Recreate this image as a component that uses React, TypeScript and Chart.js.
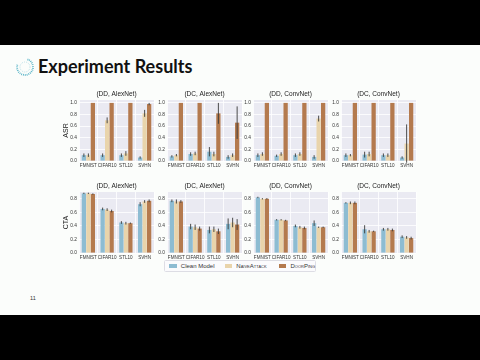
import React, { useEffect, useRef } from "react";
import { Chart, registerables } from "chart.js";
Chart.register(...registerables);

// ---------- data ----------
const categories = ["FMNIST", "CIFAR10", "STL10", "SVHN"];
const seriesNames = ["Clean Model", "NaiveAttack", "DoorPing"];
const seriesColors = ["#8dbcd2", "#e9d4ab", "#b47a4e"];

const asrTicks = [0, 0.2, 0.4, 0.6, 0.8, 1.0];
const ctaTicks = [0, 0.2, 0.4, 0.6, 0.8];

// ASR (top row)
const asrDDAlexClean = [0.1, 0.1, 0.1, 0.06];
const asrDDAlexNaive = [0.1, 0.7, 0.13, 0.82];
const asrDDAlexDoor = [1.0, 1.0, 1.0, 0.98];
const asrDDAlexErrClean = [0.03, 0.03, 0.03, 0.02];
const asrDDAlexErrNaive = [0.03, 0.05, 0.04, 0.06];
const asrDDAlexErrDoor = [0, 0, 0, 0.02];

const asrDCAlexClean = [0.08, 0.12, 0.16, 0.07];
const asrDCAlexNaive = [0.1, 0.13, 0.12, 0.1];
const asrDCAlexDoor = [1.0, 1.0, 0.82, 0.66];
const asrDCAlexErrClean = [0.02, 0.03, 0.08, 0.03];
const asrDCAlexErrNaive = [0.02, 0.03, 0.04, 0.03];
const asrDCAlexErrDoor = [0, 0, 0.18, 0.28];

const asrDDConvClean = [0.1, 0.09, 0.1, 0.07];
const asrDDConvNaive = [0.12, 0.12, 0.12, 0.73];
const asrDDConvDoor = [1.0, 1.0, 1.0, 1.0];
const asrDDConvErrClean = [0.03, 0.02, 0.03, 0.03];
const asrDDConvErrNaive = [0.03, 0.03, 0.03, 0.05];
const asrDDConvErrDoor = [0, 0, 0, 0];

const asrDCConvClean = [0.1, 0.11, 0.1, 0.06];
const asrDCConvNaive = [0.1, 0.12, 0.1, 0.3];
const asrDCConvDoor = [1.0, 1.0, 1.0, 1.0];
const asrDCConvErrClean = [0.03, 0.05, 0.03, 0.02];
const asrDCConvErrNaive = [0.02, 0.04, 0.03, 0.33];
const asrDCConvErrDoor = [0, 0, 0, 0];

// CTA (bottom row)
const ctaDDAlexClean = [0.88, 0.65, 0.45, 0.72];
const ctaDDAlexNaive = [0.88, 0.64, 0.44, 0.76];
const ctaDDAlexDoor = [0.87, 0.62, 0.44, 0.77];
const ctaDDAlexErrClean = [0.01, 0.02, 0.02, 0.03];
const ctaDDAlexErrNaive = [0.01, 0.02, 0.02, 0.02];
const ctaDDAlexErrDoor = [0.01, 0.02, 0.01, 0.02];

const ctaDCAlexClean = [0.77, 0.39, 0.34, 0.43];
const ctaDCAlexNaive = [0.76, 0.38, 0.35, 0.45];
const ctaDCAlexDoor = [0.76, 0.36, 0.32, 0.42];
const ctaDCAlexErrClean = [0.02, 0.04, 0.05, 0.08];
const ctaDCAlexErrNaive = [0.03, 0.04, 0.04, 0.07];
const ctaDCAlexErrDoor = [0.02, 0.03, 0.04, 0.08];

const ctaDDConvClean = [0.82, 0.49, 0.4, 0.44];
const ctaDDConvNaive = [0.8, 0.49, 0.38, 0.38];
const ctaDDConvDoor = [0.8, 0.48, 0.37, 0.38];
const ctaDDConvErrClean = [0.01, 0.01, 0.02, 0.04];
const ctaDDConvErrNaive = [0.01, 0.01, 0.02, 0.01];
const ctaDDConvErrDoor = [0.01, 0.01, 0.02, 0.01];

const ctaDCConvClean = [0.74, 0.35, 0.35, 0.24];
const ctaDCConvNaive = [0.74, 0.32, 0.35, 0.23];
const ctaDCConvDoor = [0.74, 0.32, 0.34, 0.22];
const ctaDCConvErrClean = [0.01, 0.06, 0.02, 0.02];
const ctaDCConvErrNaive = [0.02, 0.02, 0.02, 0.02];
const ctaDCConvErrDoor = [0.02, 0.01, 0.02, 0.02];

// ---------- plugins ----------
const plotBgPlugin = {
  id: "plotBg",
  afterLayout(chart: any) {
    const tb = chart.titleBlock;
    if (tb) {
      tb.left = chart.chartArea.left;
      tb.right = chart.chartArea.right;
      tb.width = tb.right - tb.left;
    }
  },
  beforeDraw(chart: any) {
    const { ctx, chartArea: a } = chart;
    ctx.save();
    ctx.fillStyle = "#eaeaf2";
    ctx.fillRect(a.left, a.top, a.right - a.left, a.bottom - a.top);
    ctx.restore();
  },
};

const errorBarPlugin = {
  id: "errBars",
  afterDatasetsDraw(chart: any) {
    const ctx = chart.ctx;
    const ys = chart.scales.y;
    chart.data.datasets.forEach((ds: any, i: number) => {
      const errs = ds.errors;
      if (!errs) return;
      const meta = chart.getDatasetMeta(i);
      meta.data.forEach((bar: any, j: number) => {
        const v = ds.data[j];
        const e = errs[j];
        if (!e) return;
        ctx.save();
        ctx.strokeStyle = "#3a3a3a";
        ctx.lineWidth = 0.9;
        ctx.beginPath();
        ctx.moveTo(bar.x, ys.getPixelForValue(v - e));
        ctx.lineTo(bar.x, ys.getPixelForValue(v + e));
        ctx.stroke();
        ctx.restore();
      });
    });
  },
};

const FONT = "'Liberation Sans', 'Open Sans', sans-serif";

type PanelProps = {
  left: number;
  top: number;
  plotW: number;
  plotH: number;
  yW: number;
  title: string;
  yTitle?: string;
  yMax: number;
  yTicks: number[];
  values: number[][];
  errors: number[][];
};

const TITLE_H = 10;
const XAXIS_H = 9;

function Panel(p: PanelProps) {
  const ref = useRef<HTMLCanvasElement | null>(null);
  const width = p.yW + p.plotW + 2;
  const height = TITLE_H + p.plotH + XAXIS_H;
  useEffect(() => {
    if (!ref.current) return;
    const chart = new Chart(ref.current, {
      type: "bar",
      data: {
        labels: categories,
        datasets: p.values.map((vals, i) => ({
          label: seriesNames[i],
          data: vals,
          errors: p.errors[i],
          backgroundColor: seriesColors[i],
          borderWidth: 0,
          barPercentage: 0.95,
          categoryPercentage: 0.72,
        })) as any,
      },
      options: {
        animation: false,
        responsive: false,
        devicePixelRatio: 1,
        layout: { padding: { left: 0, right: 2, top: 0, bottom: 0 } },
        plugins: {
          legend: { display: false },
          tooltip: { enabled: false },
          title: {
            display: true,
            text: p.title,
            color: "#222",
            font: { size: 6.5, family: FONT, weight: "normal" },
            padding: { top: 0, bottom: 2.2 },
          },
        },
        scales: {
          x: {
            grid: { display: true, color: "#ffffff", lineWidth: 0.8, drawTicks: false, offset: true },
            border: { display: false },
            ticks: {
              color: "#333",
              font: { size: 4.6, family: FONT },
              padding: 1.5,
              maxRotation: 0,
              minRotation: 0,
              autoSkip: false,
            },
            afterFit: (s: any) => {
              s.height = XAXIS_H;
            },
          },
          y: {
            min: 0,
            max: p.yMax,
            afterBuildTicks: (s: any) => {
              s.ticks = p.yTicks.map((v) => ({ value: v }));
            },
            grid: { color: "#ffffff", lineWidth: 0.8, drawTicks: false },
            border: { display: false },
            ticks: {
              color: "#333",
              font: { size: 4.8, family: FONT },
              padding: 2,
              callback: (v: any) => Number(v).toFixed(1),
            },
            title: p.yTitle
              ? {
                  display: true,
                  text: p.yTitle,
                  color: "#222",
                  font: { size: 7, family: FONT },
                  padding: { top: 9, bottom: 0 },
                }
              : { display: false },
            afterFit: (s: any) => {
              s.width = p.yW;
            },
          },
        },
      },
      plugins: [plotBgPlugin, errorBarPlugin],
    });
    return () => chart.destroy();
  }, []);
  return (
    <canvas
      ref={ref}
      width={width}
      height={height}
      style={{
        position: "absolute",
        left: p.left - p.yW,
        top: p.top - TITLE_H,
        width,
        height,
      }}
    />
  );
}

function Logo() {
  return (
    <svg width="22" height="22" viewBox="0 0 22 22" style={{ position: "absolute", left: 14, top: 56 }}>
      <circle
        cx="11"
        cy="11"
        r="8"
        fill="none"
        stroke="#4fb0c4"
        strokeWidth="1.8"
        transform="rotate(-60 11 11)"
        pathLength="60"
        style={{ strokeDasharray: "1 1.2 1 1.2 1 1.2 1 1.2 1 1.2 1 1.2 1 1.2 1 1.2 1 1.2 1 1.2 1 1.2 1 1.2 1 1.2 1 1.2 1 1.2 1 1.2 1 1.2 1 1.2 1 1.2 1 1.2 0 14" }}
      />
      <circle cx="11" cy="11" r="5" fill="none" stroke="#9fd3de" strokeWidth="0.8" strokeDasharray="0.8 1.2" />
    </svg>
  );
}

function LegendPatch({ color }: { color: string }) {
  return <span style={{ display: "inline-block", width: 11, height: 4, background: color, marginRight: 4 }} />;
}

export default function App() {
  const xs = [79, 167, 253, 341];
  const topY = 100;
  const botY = 192;
  const plotW = 75;
  const plotH = 61;
  const titlesTop = ["(DD, AlexNet)", "(DC, AlexNet)", "(DD, ConvNet)", "(DC, ConvNet)"];
  const asrVals = [
    [asrDDAlexClean, asrDDAlexNaive, asrDDAlexDoor],
    [asrDCAlexClean, asrDCAlexNaive, asrDCAlexDoor],
    [asrDDConvClean, asrDDConvNaive, asrDDConvDoor],
    [asrDCConvClean, asrDCConvNaive, asrDCConvDoor],
  ];
  const asrErrs = [
    [asrDDAlexErrClean, asrDDAlexErrNaive, asrDDAlexErrDoor],
    [asrDCAlexErrClean, asrDCAlexErrNaive, asrDCAlexErrDoor],
    [asrDDConvErrClean, asrDDConvErrNaive, asrDDConvErrDoor],
    [asrDCConvErrClean, asrDCConvErrNaive, asrDCConvErrDoor],
  ];
  const ctaVals = [
    [ctaDDAlexClean, ctaDDAlexNaive, ctaDDAlexDoor],
    [ctaDCAlexClean, ctaDCAlexNaive, ctaDCAlexDoor],
    [ctaDDConvClean, ctaDDConvNaive, ctaDDConvDoor],
    [ctaDCConvClean, ctaDCConvNaive, ctaDCConvDoor],
  ];
  const ctaErrs = [
    [ctaDDAlexErrClean, ctaDDAlexErrNaive, ctaDDAlexErrDoor],
    [ctaDCAlexErrClean, ctaDCAlexErrNaive, ctaDCAlexErrDoor],
    [ctaDDConvErrClean, ctaDDConvErrNaive, ctaDDConvErrDoor],
    [ctaDCConvErrClean, ctaDCConvErrNaive, ctaDCConvErrDoor],
  ];

  return (
    <div style={{ position: "fixed", left: 0, top: 0, width: 480, height: 360, background: "#000", overflow: "hidden" }}>
      <div style={{ position: "absolute", left: 0, top: 45, width: 480, height: 270, background: "#fbfdfb" }} />
      <Logo />
      <div
        style={{
          position: "absolute",
          left: 38,
          top: 57,
          fontFamily: "Lato, 'Open Sans', sans-serif",
          fontWeight: 700,
          fontSize: 18,
          lineHeight: "19px",
          color: "#111",
          whiteSpace: "nowrap",
        }}
      >
        Experiment Results
      </div>
      {xs.map((x, i) => (
        <Panel
          key={"a" + i}
          left={x}
          top={topY}
          plotW={plotW}
          plotH={plotH}
          yW={i === 0 ? 26 : 17}
          title={titlesTop[i]}
          yTitle={i === 0 ? "ASR" : undefined}
          yMax={1.05}
          yTicks={asrTicks}
          values={asrVals[i]}
          errors={asrErrs[i]}
        />
      ))}
      {xs.map((x, i) => (
        <Panel
          key={"c" + i}
          left={x}
          top={botY}
          plotW={plotW}
          plotH={plotH}
          yW={i === 0 ? 26 : 17}
          title={titlesTop[i]}
          yTitle={i === 0 ? "CTA" : undefined}
          yMax={0.9}
          yTicks={ctaTicks}
          values={ctaVals[i]}
          errors={ctaErrs[i]}
        />
      ))}
      <div
        style={{
          position: "absolute",
          left: 164,
          top: 260,
          width: 152,
          height: 12,
          boxSizing: "border-box",
          border: "0.8px solid #dddde4",
          borderRadius: 1.5,
          background: "#fbfbfd",
          display: "flex",
          alignItems: "center",
          paddingLeft: 4,
          fontFamily: FONT,
          fontSize: 6,
          color: "#333",
          whiteSpace: "nowrap",
        }}
      >
        <LegendPatch color={seriesColors[0]} />
        <span style={{ marginRight: 10 }}>{seriesNames[0]}</span>
        <LegendPatch color={seriesColors[1]} />
        <span style={{ marginRight: 12, fontVariant: "small-caps" }}>{seriesNames[1]}</span>
        <LegendPatch color={seriesColors[2]} />
        <span style={{ fontVariant: "small-caps" }}>{seriesNames[2]}</span>
      </div>
      <div
        style={{
          position: "absolute",
          left: 30,
          top: 295,
          fontFamily: FONT,
          fontSize: 5.5,
          color: "#333",
        }}
      >
        11
      </div>
    </div>
  );
}
